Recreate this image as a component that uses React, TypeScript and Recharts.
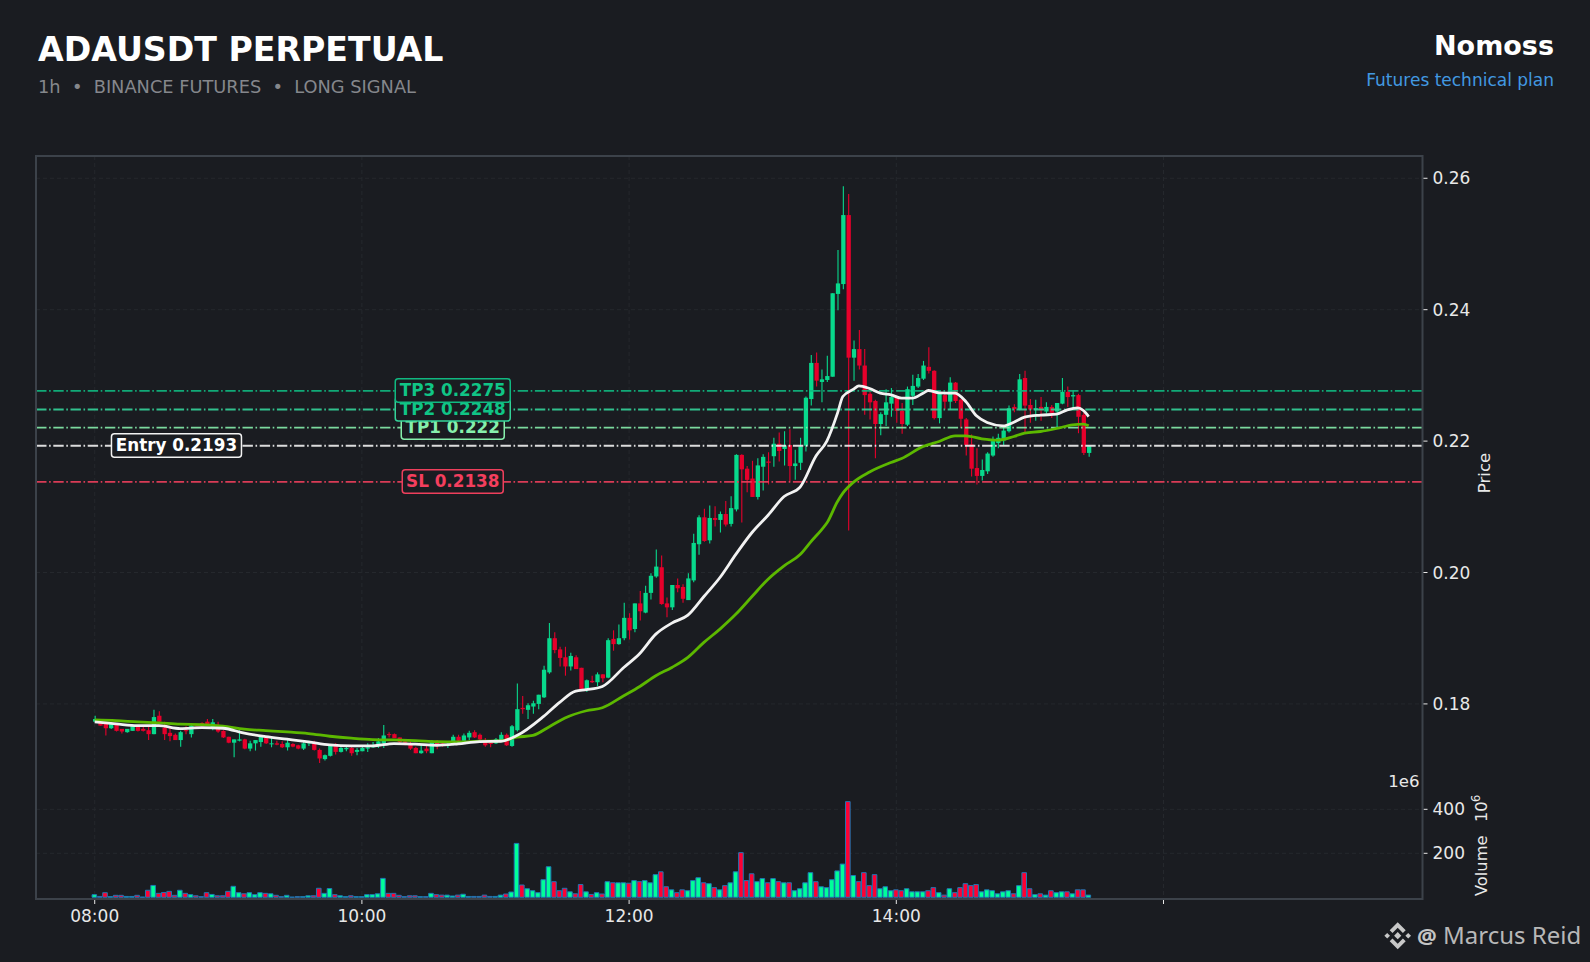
import { Bar, CartesianGrid, Cell, ComposedChart, Line, ReferenceLine, XAxis, YAxis } from "recharts";

const BG = "#1a1c21";
const FONT = "'DejaVu Sans', sans-serif";
const UP = "#08d98c";
const DOWN = "#e6002b";
const UP_VOL = "#00ff99";
const DOWN_VOL = "#ff0033";

// candles (25 per axis hour starting at 08:00)
const opens = [
  0.1773, 0.1773, 0.177, 0.1763, 0.1768, 0.1762, 0.1757, 0.1759, 0.1766, 0.1762,
  0.176, 0.1754, 0.1782, 0.1764, 0.1756, 0.1753, 0.1745, 0.176, 0.1754, 0.1768,
  0.1771, 0.1773, 0.1762, 0.1768, 0.1759, 0.175, 0.1741, 0.1744, 0.1746, 0.1732,
  0.174, 0.1742, 0.1749, 0.174, 0.174, 0.1739, 0.1734, 0.1739, 0.1737, 0.1732,
  0.174, 0.174, 0.173, 0.1716, 0.1721, 0.1736, 0.1727, 0.1731, 0.1733, 0.1727,
  0.1728, 0.1732, 0.1734, 0.1736, 0.174, 0.1754, 0.1754, 0.1749, 0.1743, 0.174,
  0.1733, 0.1725, 0.1732, 0.1725, 0.1742, 0.174, 0.1737, 0.1738, 0.175, 0.1744,
  0.1749, 0.1757, 0.1753, 0.1742, 0.1741, 0.174, 0.1744, 0.1753, 0.1736, 0.176,
  0.1794, 0.1791, 0.1796, 0.18, 0.181, 0.1848, 0.19, 0.1883, 0.1871, 0.1857,
  0.1871, 0.1855, 0.1822, 0.1835, 0.1833, 0.1845, 0.184, 0.1899, 0.1891, 0.19,
  0.1931, 0.1914, 0.1953, 0.1939, 0.1969, 0.1994, 0.2008, 0.1953, 0.1947, 0.1981,
  0.1978, 0.1958, 0.1988, 0.2043, 0.2084, 0.2049, 0.2083, 0.208, 0.2089, 0.2074,
  0.2096, 0.2179, 0.2158, 0.2143, 0.2115, 0.2161, 0.2169, 0.2177, 0.2196, 0.2188,
  0.2194, 0.2162, 0.2167, 0.2193, 0.2264, 0.2319, 0.229, 0.2293, 0.2298, 0.2424,
  0.2439, 0.2544, 0.2327, 0.234, 0.2315, 0.2272, 0.2261, 0.2226, 0.224, 0.2257,
  0.2266, 0.2246, 0.2225, 0.2269, 0.2283, 0.2295, 0.2313, 0.2307, 0.2235, 0.227,
  0.226, 0.2289, 0.2263, 0.2233, 0.2195, 0.2159, 0.2147, 0.2154, 0.2178, 0.2197,
  0.2201, 0.2215, 0.2252, 0.2248, 0.2296, 0.2255, 0.2248, 0.2252, 0.2245, 0.2252,
  0.2245, 0.2257, 0.2275, 0.2268, 0.227, 0.224, 0.2182,
];
const highs = [
  0.1782, 0.1773, 0.1771, 0.1772, 0.177, 0.1762, 0.1762, 0.1769, 0.1766, 0.1766,
  0.1766, 0.1791, 0.1789, 0.1773, 0.1766, 0.1755, 0.1759, 0.1766, 0.1768, 0.1768,
  0.1772, 0.1777, 0.1777, 0.1773, 0.176, 0.175, 0.1746, 0.176, 0.1747, 0.1744,
  0.1745, 0.1751, 0.175, 0.1749, 0.1744, 0.1743, 0.1745, 0.174, 0.1738, 0.1743,
  0.1744, 0.1744, 0.1732, 0.1723, 0.1739, 0.174, 0.1735, 0.1735, 0.1735, 0.1733,
  0.1736, 0.174, 0.1742, 0.1748, 0.1768, 0.1757, 0.1755, 0.1749, 0.1744, 0.1743,
  0.1735, 0.1739, 0.1738, 0.1745, 0.1745, 0.1741, 0.174, 0.1753, 0.1753, 0.1755,
  0.1759, 0.176, 0.1755, 0.1748, 0.1744, 0.1748, 0.1757, 0.1755, 0.1768, 0.1831,
  0.1812, 0.1801, 0.1805, 0.1814, 0.1858, 0.1923, 0.1909, 0.1887, 0.1887, 0.1878,
  0.1874, 0.1855, 0.1837, 0.1843, 0.1848, 0.1845, 0.19, 0.1912, 0.1921, 0.1954,
  0.1938, 0.1953, 0.1972, 0.198, 0.1999, 0.2035, 0.2026, 0.1962, 0.1981, 0.1991,
  0.1982, 0.1999, 0.2059, 0.2087, 0.2097, 0.2102, 0.2101, 0.2093, 0.2109, 0.2116,
  0.218, 0.218, 0.2162, 0.217, 0.2174, 0.218, 0.2183, 0.2205, 0.2213, 0.2215,
  0.2218, 0.2187, 0.2205, 0.2268, 0.2331, 0.2335, 0.2309, 0.233, 0.2425, 0.2491,
  0.2588, 0.2576, 0.2353, 0.2369, 0.234, 0.2278, 0.2263, 0.2244, 0.2279, 0.2281,
  0.2269, 0.2258, 0.2283, 0.2301, 0.2302, 0.2322, 0.2343, 0.2308, 0.2274, 0.2273,
  0.2297, 0.229, 0.2264, 0.2235, 0.221, 0.2189, 0.2172, 0.2183, 0.2207, 0.2211,
  0.2221, 0.2254, 0.2256, 0.2302, 0.2307, 0.2264, 0.2263, 0.2267, 0.2259, 0.2255,
  0.2258, 0.2296, 0.2283, 0.2277, 0.2272, 0.2248, 0.2192,
];
const lows = [
  0.1772, 0.1767, 0.1752, 0.1762, 0.1758, 0.1755, 0.1756, 0.1759, 0.1758, 0.1758,
  0.1745, 0.1754, 0.1772, 0.1745, 0.1743, 0.1745, 0.1735, 0.1754, 0.1749, 0.1766,
  0.1766, 0.1768, 0.176, 0.1756, 0.1748, 0.174, 0.1719, 0.1743, 0.1731, 0.1728,
  0.1729, 0.1735, 0.1739, 0.1734, 0.1737, 0.1733, 0.1729, 0.1734, 0.1731, 0.173,
  0.1736, 0.1729, 0.171, 0.1714, 0.172, 0.1723, 0.1726, 0.1728, 0.1721, 0.1722,
  0.1728, 0.1727, 0.1733, 0.1733, 0.1733, 0.1749, 0.1748, 0.1738, 0.1737, 0.173,
  0.1725, 0.1724, 0.1725, 0.1725, 0.1731, 0.1735, 0.1733, 0.1737, 0.1743, 0.1743,
  0.1745, 0.1748, 0.1745, 0.1735, 0.1734, 0.1739, 0.1743, 0.1736, 0.1735, 0.1758,
  0.1785, 0.1777, 0.1785, 0.1792, 0.1809, 0.1846, 0.1877, 0.1857, 0.1843, 0.1851,
  0.1853, 0.1822, 0.1818, 0.1832, 0.1827, 0.1833, 0.1839, 0.1881, 0.189, 0.1897,
  0.1898, 0.1909, 0.1927, 0.1938, 0.1959, 0.1992, 0.1951, 0.1932, 0.1943, 0.197,
  0.1954, 0.1958, 0.1985, 0.2027, 0.2047, 0.2044, 0.207, 0.2061, 0.207, 0.207,
  0.2093, 0.2076, 0.2122, 0.2115, 0.2111, 0.2125, 0.2134, 0.2161, 0.2169, 0.2163,
  0.2139, 0.2141, 0.2156, 0.2184, 0.2254, 0.2283, 0.2259, 0.229, 0.2298, 0.2399,
  0.2431, 0.2064, 0.2292, 0.2309, 0.224, 0.2233, 0.2174, 0.2209, 0.2223, 0.2237,
  0.2228, 0.2211, 0.2223, 0.2255, 0.2281, 0.2293, 0.2303, 0.2233, 0.2227, 0.2248,
  0.2248, 0.2258, 0.222, 0.2178, 0.2146, 0.2134, 0.214, 0.215, 0.2176, 0.2189,
  0.2194, 0.2213, 0.2244, 0.2247, 0.2212, 0.2228, 0.2231, 0.2231, 0.2242, 0.2235,
  0.222, 0.2256, 0.2252, 0.225, 0.2212, 0.2179, 0.2176,
];
const closes = [
  0.1777, 0.1767, 0.1763, 0.1769, 0.1759, 0.1758, 0.1762, 0.1767, 0.1759, 0.1759,
  0.1754, 0.178, 0.1773, 0.1754, 0.1751, 0.1745, 0.1757, 0.1759, 0.1767, 0.1766,
  0.1766, 0.1769, 0.1772, 0.1758, 0.1749, 0.1741, 0.1746, 0.1746, 0.1732, 0.174,
  0.1745, 0.175, 0.174, 0.174, 0.1738, 0.1734, 0.1741, 0.1735, 0.1732, 0.174,
  0.1743, 0.173, 0.1717, 0.1722, 0.1737, 0.1727, 0.1733, 0.1733, 0.1725, 0.173,
  0.1733, 0.1734, 0.1737, 0.1743, 0.1752, 0.1753, 0.1748, 0.1742, 0.1741, 0.1732,
  0.1725, 0.1729, 0.1728, 0.1742, 0.1738, 0.1738, 0.1739, 0.175, 0.1744, 0.1752,
  0.1756, 0.1749, 0.1746, 0.1737, 0.1739, 0.1746, 0.1753, 0.1737, 0.1766, 0.1792,
  0.1792, 0.1798, 0.1801, 0.1814, 0.1852, 0.19, 0.1882, 0.187, 0.1857, 0.1873,
  0.1853, 0.1822, 0.1836, 0.1833, 0.1845, 0.1839, 0.1897, 0.1891, 0.19, 0.1931,
  0.1912, 0.1953, 0.1941, 0.1969, 0.1995, 0.2009, 0.1952, 0.1947, 0.1981, 0.1976,
  0.196, 0.1991, 0.2045, 0.2084, 0.2048, 0.2083, 0.208, 0.2089, 0.2073, 0.2098,
  0.2179, 0.2157, 0.2141, 0.2115, 0.2163, 0.2176, 0.2167, 0.2196, 0.2185, 0.2193,
  0.2162, 0.2166, 0.2192, 0.2266, 0.2319, 0.2292, 0.2294, 0.2299, 0.2425, 0.244,
  0.2544, 0.2327, 0.234, 0.2315, 0.227, 0.2259, 0.2226, 0.2241, 0.2259, 0.2267,
  0.2246, 0.2226, 0.2279, 0.2284, 0.2296, 0.2315, 0.2307, 0.2235, 0.2272, 0.226,
  0.2289, 0.2261, 0.2234, 0.2194, 0.2158, 0.2147, 0.2156, 0.2181, 0.22, 0.2205,
  0.2216, 0.225, 0.2249, 0.2294, 0.2254, 0.2248, 0.225, 0.2247, 0.2252, 0.2243,
  0.2258, 0.2275, 0.2267, 0.227, 0.2237, 0.2182, 0.2192,
];

// volume in millions
const volumes = [
  12, 4, 21, 3, 9, 9, 4, 4, 9, 1,
  32, 54, 18, 22, 27, 9, 32, 18, 12, 7,
  3, 21, 13, 7, 7, 27, 50, 21, 16, 21,
  12, 21, 18, 16, 9, 3, 9, 1, 3, 3,
  7, 7, 41, 18, 40, 12, 7, 3, 7, 3,
  3, 12, 12, 16, 86, 18, 18, 9, 3, 7,
  7, 3, 3, 18, 12, 10, 10, 6, 10, 14,
  4, 4, 4, 10, 4, 4, 10, 15, 24, 245,
  56, 39, 30, 21, 80, 139, 71, 30, 41, 25,
  16, 58, 25, 13, 21, 15, 71, 66, 66, 66,
  64, 76, 71, 76, 66, 103, 116, 48, 34, 21,
  34, 30, 76, 89, 66, 62, 44, 34, 53, 66,
  116, 203, 76, 107, 71, 85, 66, 85, 71, 66,
  66, 30, 39, 66, 112, 71, 48, 44, 80, 120,
  151, 435, 99, 71, 112, 53, 103, 39, 48, 30,
  34, 30, 39, 25, 25, 25, 30, 44, 21, 10,
  39, 21, 44, 62, 53, 58, 25, 34, 30, 16,
  25, 30, 16, 53, 112, 39, 12, 16, 10, 30,
  21, 25, 25, 16, 34, 34, 10,
];

// moving averages, read at these candle numbers
const fastAt = [
  0, 4, 8, 12, 16, 20, 24, 28, 32, 36, 40, 44, 48, 52, 56, 60, 64, 68, 72, 76, 79,
  84, 87, 90, 92, 95, 99, 102, 105, 108, 111, 114, 117, 120, 123, 126, 129, 132,
  135, 137, 139, 140, 142, 143, 145, 147, 149, 151, 153, 155, 156, 158, 161, 163,
  165, 167, 170, 172, 174, 177, 180, 182, 184, 185, 186,
];
const fastValues = [
  0.17726, 0.17696, 0.1767, 0.1767, 0.17625, 0.1764, 0.1763, 0.17554, 0.17503, 0.17463, 0.17422,
  0.17376, 0.17361, 0.17361, 0.17397, 0.17387, 0.17371, 0.17392, 0.17427, 0.17432, 0.17518,
  0.1781, 0.18023, 0.18195, 0.18216, 0.18266, 0.18555, 0.18768, 0.19062, 0.1923, 0.19351,
  0.19635, 0.19924, 0.20279, 0.20609, 0.20872, 0.21156, 0.213,
  0.21776, 0.22, 0.22425, 0.22678, 0.2279, 0.22841, 0.228, 0.22729, 0.22704, 0.22653, 0.22653,
  0.22729, 0.2277, 0.22734, 0.22729, 0.22602, 0.22384, 0.22283, 0.22232, 0.22288, 0.22364,
  0.22395, 0.2241, 0.22476, 0.22506, 0.22466, 0.22374,
];
const slowAt = [
  0, 4, 8, 12, 16, 20, 24, 28, 32, 36, 40, 44, 48, 52, 56, 60, 64, 68, 72, 76, 79,
  82, 85, 88, 92, 95, 99, 102, 105, 108, 111, 114, 117, 120, 123, 126, 129, 132, 134,
  136, 137, 139, 140, 142, 145, 149, 151, 155, 158, 161, 163, 166, 169, 172, 174,
  177, 180, 183, 185, 186,
];
const slowValues = [
  0.17757, 0.17746, 0.17726, 0.17711, 0.17691, 0.17686, 0.1766, 0.17615, 0.17594, 0.17574, 0.17549,
  0.17508, 0.17478, 0.17457, 0.17452, 0.17442, 0.17427, 0.17422, 0.17432, 0.17437, 0.17493,
  0.1752, 0.1765, 0.17785, 0.17896, 0.17942, 0.18125, 0.18266, 0.18429, 0.18555, 0.18708,
  0.18936, 0.19139, 0.19367, 0.19635, 0.19899, 0.20102, 0.20274, 0.20467,
  0.2065, 0.20752, 0.21081, 0.21208, 0.21376, 0.2153, 0.21674, 0.21735, 0.21918, 0.21994,
  0.2208, 0.2208, 0.22035, 0.22014, 0.2207, 0.22121, 0.22146, 0.22192, 0.22247, 0.22258, 0.22232,
];

const priceTicks = [0.18, 0.2, 0.22, 0.24, 0.26];
const volumeTicks = [200, 400];
const hourTicks = [8, 10, 12, 14, 16];

const HOUR_DOMAIN = [7.5606, 17.9386];

const levelNames = ["SL", "Entry", "TP1", "TP2", "TP3"];
const levelValues = [0.2138, 0.2193, 0.22205, 0.2248, 0.22765];
const levelLabels = ["SL 0.2138", "Entry 0.2193", "TP1 0.222", "TP2 0.2248", "TP3 0.2275"];
const levelColors = ["#ee3f5c", "#f2f2f2", "#86efac", "#34d399", "#10b981"];
const levelTextColors = ["#f43f5e", "#ffffff", "#86efac", "#10c586", "#10c586"];

const rows = opens.map((open, i) => {
  const fastIdx = fastAt.indexOf(i);
  const slowIdx = slowAt.indexOf(i);
  return {
    hour: 8 + i / 25,
    open,
    high: highs[i],
    low: lows[i],
    close: closes[i],
    volume: volumes[i],
    fast: fastIdx >= 0 ? fastValues[fastIdx] : null,
    slow: slowIdx >= 0 ? slowValues[slowIdx] : null,
  };
});

function Candle(props: any) {
  const { x, y, width, height, payload } = props;
  const { open, high, low, close } = payload;
  const perUnit = height / (high - low);
  const top = y + (high - Math.max(open, close)) * perUnit;
  const bodyH = Math.max(1, Math.abs(open - close) * perUnit);
  const color = close >= open ? UP : DOWN;
  const cx = x + width / 2;
  return (
    <g>
      <line x1={cx} x2={cx} y1={y} y2={y + height} stroke={color} strokeWidth={1.1} />
      <rect x={x} y={top} width={width} height={bodyH} fill={color} />
    </g>
  );
}

// boxed level tag, centred on its own line
function levelTag(name: string, text: string, color: string, textColor: string) {
  const centerHour = name === "Entry" ? 8.612 : 10.68;
  const boxW = { SL: 101, Entry: 130, TP1: 103, TP2: 115, TP3: 115 }[name] as number;
  return (p: any) => {
    const { x, y, width } = p.viewBox;
    const cx = x + ((centerHour - HOUR_DOMAIN[0]) / (HOUR_DOMAIN[1] - HOUR_DOMAIN[0])) * width;
    return (
      <g>
        <rect x={cx - boxW / 2} y={y - 12} width={boxW} height={23.5} rx={3} fill={BG} stroke={color} strokeWidth={1.5} />
        <text x={cx} y={y + 5} textAnchor="middle" fontFamily={FONT} fontWeight="bold" fontSize={16.8} fill={textColor}>
          {text}
        </text>
      </g>
    );
  };
}

function Header() {
  return (
    <svg width={1590} height={962} style={{ position: "absolute", left: 0, top: 0, pointerEvents: "none" }}>
      <g fontFamily={FONT}>
        <text x={38} y={60.7} fontSize={33.2} fontWeight="bold" fill="#ffffff">ADAUSDT PERPETUAL</text>
        <text x={38} y={92.7} fontSize={17.8} fill="#85878c" style={{ whiteSpace: "pre" }}>
          1h  •  BINANCE FUTURES  •  LONG SIGNAL
        </text>
        <text x={1554} y={55} fontSize={27} fontWeight="bold" fill="#ffffff" textAnchor="end">Nomoss</text>
        <text x={1554} y={86} fontSize={17} fill="#4299e1" textAnchor="end">Futures technical plan</text>

        <text x={1419.5} y={786.7} fontSize={16.6} fill="#e8e8e8" textAnchor="end">1e6</text>
        <text transform="translate(1489.5,473) rotate(-90)" fontSize={16.6} fill="#e8e8e8" textAnchor="middle">Price</text>
        <g transform="translate(1487,896) rotate(-90)" fontSize={16.3} fill="#e8e8e8">
          <text x={0} y={0}>Volume</text>
          <text x={74} y={0}>10</text>
          <text x={94} y={-7} fontSize={11.5}>6</text>
        </g>
      </g>
      <rect x={36} y={156} width={1386.5} height={743} fill="none" stroke="#3c424a" strokeWidth={2} />
      {/* watermark */}
      <g transform="translate(1397.7,935.7)" fill="#c8c8c8">
        <polygon points="0,-3.6 3.6,0 0,3.6 -3.6,0" />
        <polygon points="-10.5,-2.8 -7.7,0 -10.5,2.8 -13.3,0" />
        <polygon points="10.5,-2.8 13.3,0 10.5,2.8 7.7,0" />
        <polygon points="0,-13.5 8,-5.5 5.2,-2.8 0,-8 -5.2,-2.8 -8,-5.5" />
        <polygon points="0,13.5 8,5.5 5.2,2.8 0,8 -5.2,2.8 -8,5.5" />
      </g>
      <text x={1417} y={944} fontFamily="'Noto Sans', sans-serif" fontSize={22} fontWeight="bold" fill="#c4c4c4">@</text>
      <text x={1443} y={944} fontFamily="'Noto Sans', sans-serif" fontSize={24} fill="#b8b8b8">Marcus Reid</text>
    </svg>
  );
}

export default function App() {
  const tickStyle = { fontSize: 17, fill: "#e8e8e8", fontFamily: FONT };
  return (
    <div style={{ position: "absolute", left: 0, top: 0, width: 1590, height: 962, background: BG, overflow: "hidden" }}>
      <ComposedChart
        width={1590}
        height={962}
        data={rows}
        margin={{ top: 156, right: 165.5, bottom: 23, left: 36 }}
      >
        <XAxis
          dataKey="hour"
          type="number"
          domain={HOUR_DOMAIN}
          ticks={hourTicks}
          height={40}
          allowDataOverflow
          tick={tickStyle}
          tickSize={5}
          tickMargin={6}
          stroke="#e8e8e8"
          axisLine={false}
          tickFormatter={(v: number) => (v === 16 ? "" : `${String(v).padStart(2, "0")}:00`)}
        />
        <XAxis xAxisId="vol" dataKey="hour" type="number" domain={HOUR_DOMAIN} hide />
        <YAxis
          yAxisId="price"
          orientation="right"
          type="number"
          domain={[0.15031, 0.26339]}
          ticks={priceTicks}
          width={1}
          tick={tickStyle}
          tickSize={5}
          tickMargin={5}
          stroke="#e8e8e8"
          axisLine={false}
          tickFormatter={(v: number) => v.toFixed(2)}
        />
        <YAxis
          yAxisId="volume"
          orientation="right"
          type="number"
          domain={[-7.7, 3370]}
          ticks={volumeTicks}
          width={1}
          tick={tickStyle}
          tickSize={4}
          tickMargin={5}
          stroke="#e8e8e8"
          axisLine={false}
        />
        <CartesianGrid yAxisId="price" stroke="#25282d" strokeDasharray="4 3" />
        <CartesianGrid yAxisId="volume" vertical={false} stroke="#25282d" strokeDasharray="4 3" />

        <Bar
          xAxisId="vol"
          yAxisId="volume"
          dataKey="volume"
          barSize={4.6}
          stroke="#1f77b4"
          strokeWidth={1}
          isAnimationActive={false}
        >
          {rows.map((r, i) => (
            <Cell key={i} fill={r.close >= r.open ? UP_VOL : DOWN_VOL} />
          ))}
        </Bar>
        <Bar
          yAxisId="price"
          dataKey={(r: any) => [r.low, r.high]}
          barSize={4.3}
          shape={Candle}
          isAnimationActive={false}
        />
        {levelValues.map((value, i) => (
          <ReferenceLine
            key={levelNames[i]}
            yAxisId="price"
            y={value}
            stroke={levelColors[i]}
            strokeWidth={1.9}
            strokeOpacity={0.9}
            strokeDasharray="10.4 2.6 1.6 2.6"
            label={levelTag(levelNames[i], levelLabels[i], levelColors[i], levelTextColors[i])}
          />
        ))}
        <Line
          yAxisId="price"
          dataKey="slow"
          type="monotone"
          stroke="#5cb800"
          strokeWidth={2.8}
          dot={false}
          connectNulls
          isAnimationActive={false}
        />
        <Line
          yAxisId="price"
          dataKey="fast"
          type="monotone"
          stroke="#f2f2f2"
          strokeWidth={2.8}
          dot={false}
          connectNulls
          isAnimationActive={false}
        />
      </ComposedChart>
      <Header />
    </div>
  );
}
